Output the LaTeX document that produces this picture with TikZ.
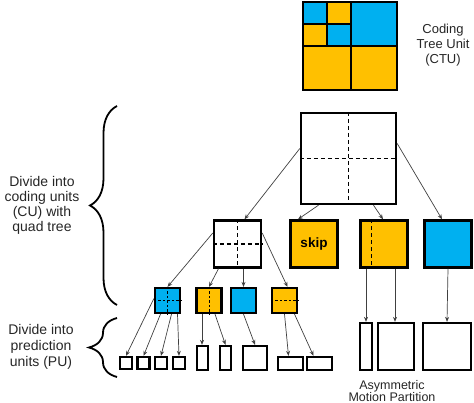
\documentclass[tikz,border=0pt]{standalone}
\usepackage{fontspec}
\setmainfont{Liberation Sans}
\usetikzlibrary{decorations.pathreplacing, arrows.meta}
\definecolor{cuorange}{HTML}{FFC000}
\definecolor{cublue}{HTML}{00B0F0}

\begin{document}
\begin{tikzpicture}[x=1pt, y=-1pt, >={Stealth[length=5pt, width=4pt]},
        cubox/.style={draw, line width=2.4pt, inner sep=0pt, minimum size=#1},
        pubox/.style={draw, line width=2.3pt, inner sep=0pt},
        link/.style={->, line width=0.7pt, draw=black!75},
        split/.style={dashed, line width=1.2pt, dash pattern=on 4pt off 3pt},
        smallsplit/.style={dashed, line width=1pt, dash pattern=on 2.5pt off 2pt},
        bracket/.style={decorate, decoration={brace, amplitude=#1}, line width=1.8pt},
        txt/.style={align=center, inner sep=0pt, text=black!85}]
    \useasboundingbox (0,0) rectangle (474,403);

    % Coding Tree Unit
    \fill[cuorange] (303,2) rectangle (397,90);
    \fill[cublue] (351,2) rectangle (397,46);
    \fill[cublue] (303,2) rectangle (327,24);
    \fill[cublue] (327,24) rectangle (351,46);
    \draw[line width=2.4pt] (327,2) -- (327,46) (303,24) -- (351,24)
        (351,2) -- (351,90) (303,46) -- (397,46);
    \draw[line width=2.8pt] (303,2) rectangle (397,90);
    \node[txt, font=\fontsize{13}{15}\selectfont] (ctulabel) at (443,45) {Coding\\Tree Unit\\(CTU)};

    % Coding units
    \node[cubox=91, minimum width=95] (root) at (348.5,158.5) {};
    \node[cubox=47] (w2) at (237.5,244) {};
    \node[cubox=47, fill=cuorange, font=\fontsize{13.5}{15}\selectfont\bfseries] (skip) at (314,244) {skip};
    \node[cubox=47, fill=cuorange] (o2) at (384,244) {};
    \node[cubox=47, fill=cublue] (b2) at (448,244) {};

    \node[cubox=25, line width=2.2pt, fill=cublue] (b3a) at (167.5,300.5) {};
    \node[cubox=25, line width=2.2pt, fill=cuorange] (o3a) at (209,300.5) {};
    \node[cubox=25, line width=2.2pt, fill=cublue] (b3b) at (243.5,300.5) {};
    \node[cubox=25, line width=2.2pt, fill=cuorange] (o3b) at (284.5,300.5) {};

    % Splits
    \draw[split] (root.north) -- (root.south) (root.west) -- (root.east);
    \draw[split] (w2.north) -- (w2.south) (w2.west) -- (w2.east);
    \draw[split] ([xshift=12pt]o2.north west) -- ([xshift=12pt]o2.south west);
    \draw[smallsplit] (b3a.north) -- (b3a.south) (b3a.west) -- (b3a.east);
    \draw[smallsplit] (o3a.north) -- (o3a.south);
    \draw[smallsplit] (o3b.west) -- (o3b.east);

    % Prediction units
    \node[pubox, minimum size=12] (pu1) at (126,363) {};
    \node[pubox, minimum size=12] (pu2) at (143.5,363) {};
    \node[pubox, minimum size=12] (pu3) at (161,363) {};
    \node[pubox, minimum size=12] (pu4) at (179,363) {};
    \node[pubox, minimum width=11, minimum height=24] (t1) at (202.5,358) {};
    \node[pubox, minimum width=11, minimum height=24] (t2) at (225.5,358) {};
    \node[pubox, minimum size=24] (sq) at (255,358) {};
    \node[pubox, minimum width=25, minimum height=13] (wd1) at (290.5,363.5) {};
    \node[pubox, minimum width=25, minimum height=13] (wd2) at (319.5,363.5) {};

    % Asymmetric partitions
    \node[pubox, minimum width=12, minimum height=47] (amp1) at (366,346.5) {};
    \node[pubox, minimum width=36, minimum height=47] (amp2) at (396,346.5) {};
    \node[pubox, minimum width=48, minimum height=47] (amp3) at (447,346.5) {};
    \node[txt, font=\fontsize{12.5}{12.5}\selectfont] (amplabel) at (392,391) {Asymmetric\\Motion Partition};

    % Links
    \draw[link] ([yshift=10pt]root.west) -- ([xshift=7pt]w2.north);
    \draw[link] ([xshift=-30pt]root.south) -- ([xshift=-16pt]skip.north);
    \draw[link] ([xshift=25pt]root.south) -- ([xshift=-1pt]o2.north);
    \draw[link] ([yshift=15pt]root.east) -- ([xshift=-6pt]b2.north);

    \draw[link] ([yshift=11pt]w2.west) -- (b3a.north);
    \draw[link] ([xshift=-19pt]w2.south) -- (o3a.north);
    \draw[link] ([xshift=6pt]w2.south) -- (b3b.north);
    \draw[link] ([yshift=11pt]w2.east) -- ([xshift=3pt]o3b.north);

    \draw[link] ([yshift=2pt]b3a.west) -- (pu1.north);
    \draw[link] ([xshift=-7pt]b3a.south) -- (pu2.north);
    \draw[link] ([xshift=4pt]b3a.south) -- (pu3.north);
    \draw[link] ([xshift=10pt]b3a.south) -- (pu4.north);
    \draw[link] ([xshift=-7pt]o3a.south) -- ([xshift=-0.5pt]t1.north);
    \draw[link] ([xshift=6pt]o3a.south) -- (t2.north);
    \draw[link] (b3b.south) -- (sq.north);
    \draw[link] (o3b.south) -- ([xshift=-2pt]wd1.north);
    \draw[link] ([xshift=10pt]o3b.south) -- ([xshift=-6pt]wd2.north);

    \draw[link] ([xshift=-18pt]o2.south) -- (amp1.north);
    \draw[link] ([xshift=11pt]o2.south) -- ([xshift=-1pt]amp2.north);
    \draw[link] (b2.south) -- (amp3.north);

    % Braces and labels
    \coordinate (cutop) at (117,106);
    \coordinate (cubot) at (117,305);
    \coordinate (putop) at (117,318);
    \coordinate (pubot) at (117,377);
    \draw[bracket=27pt] (cubot) -- (cutop);
    \draw[bracket=28pt] (pubot) -- (putop);
    \node[txt, font=\fontsize{14}{15}\selectfont] (culabel) at (42,205) {Divide into\\coding units\\(CU) with\\quad tree};
    \node[txt, font=\fontsize{14}{16}\selectfont] (pulabel) at (41,347) {Divide into\\prediction\\units (PU)};
\end{tikzpicture}
\end{document}
